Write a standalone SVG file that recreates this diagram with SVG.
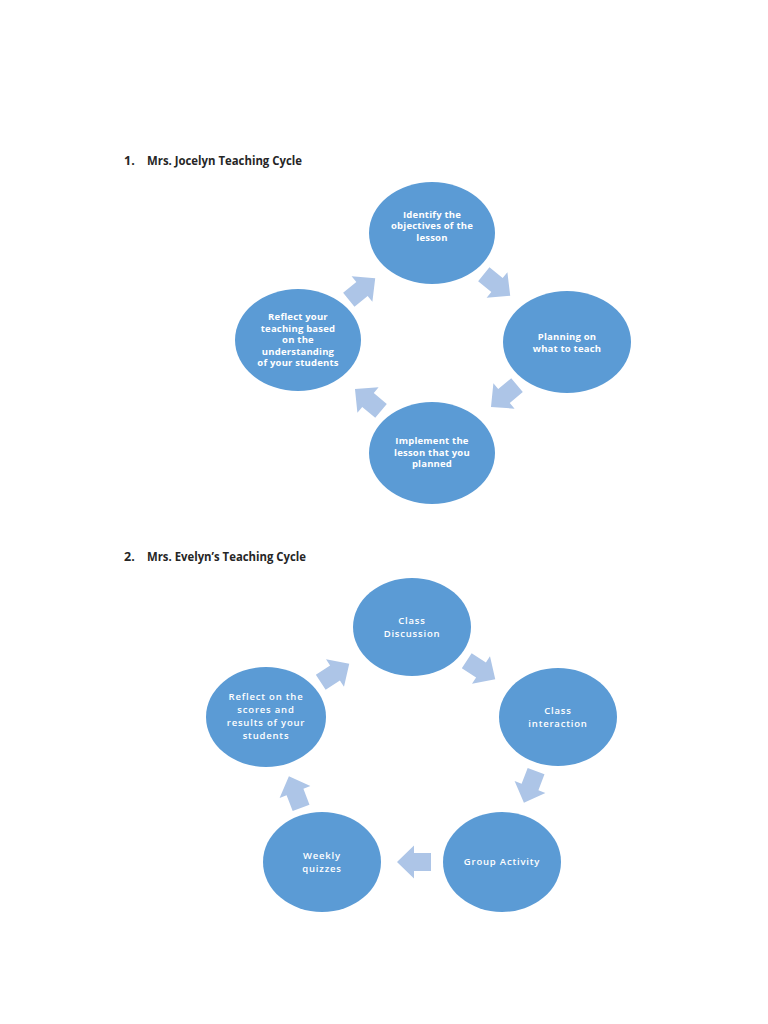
<svg xmlns="http://www.w3.org/2000/svg" width="768" height="1024" viewBox="0 0 768 1024">
<style>
.bg{fill:#ffffff}
.node{fill:#5b9bd5}
.arr{fill:#adc5e7}
.head{font-family:"Open Sans","Liberation Sans",sans-serif;font-weight:700;font-size:12.5px;fill:#262626}
.t1{font-family:"Open Sans","Liberation Sans",sans-serif;font-weight:700;font-size:9.5px;fill:#ffffff;text-anchor:middle;letter-spacing:0.2px}
.t2{font-family:"Open Sans","Liberation Sans",sans-serif;font-weight:600;font-size:9.5px;fill:#ffffff;text-anchor:middle;letter-spacing:0.8px}
</style>
<defs>
<path id="ba" d="M-17,-9 L0,-9 L0,-16.5 L17,0 L0,16.5 L0,9 L-17,9 Z"/>
</defs>
<rect class="bg" x="0" y="0" width="768" height="1024"/>

<text class="head" x="124" y="165">1.</text>
<text class="head" x="147" y="165" textLength="155" lengthAdjust="spacingAndGlyphs">Mrs. Jocelyn Teaching Cycle</text>
<text class="head" x="124" y="561">2.</text>
<text class="head" x="147" y="561" textLength="159" lengthAdjust="spacingAndGlyphs">Mrs. Evelyn’s Teaching Cycle</text>

<g id="connectors">
<use href="#ba" class="arr" transform="translate(497,285) rotate(39)"/>
<use href="#ba" class="arr" transform="translate(504,396) rotate(140)"/>
<use href="#ba" class="arr" transform="translate(368,400) rotate(220)"/>
<use href="#ba" class="arr" transform="translate(362,289) rotate(-39)"/>
<use href="#ba" class="arr" transform="translate(481,670) rotate(33)"/>
<use href="#ba" class="arr" transform="translate(530,787) rotate(111)"/>
<use href="#ba" class="arr" transform="translate(414,862) rotate(180)"/>
<use href="#ba" class="arr" transform="translate(295,792) rotate(249)"/>
<use href="#ba" class="arr" transform="translate(335,673) rotate(-33)"/>
</g>

<g id="n1-identify">
<ellipse class="node" cx="432" cy="233" rx="63" ry="51"/>
<text class="t1" x="432" y="218">Identify the</text>
<text class="t1" x="432" y="229">objectives of the</text>
<text class="t1" x="432" y="241">lesson</text>
</g>
<g id="n1-planning">
<ellipse class="node" cx="567" cy="342" rx="64" ry="51"/>
<text class="t1" x="567" y="340">Planning on</text>
<text class="t1" x="567" y="352">what to teach</text>
</g>
<g id="n1-implement">
<ellipse class="node" cx="432" cy="453" rx="63" ry="51"/>
<text class="t1" x="432" y="444">Implement the</text>
<text class="t1" x="432" y="456">lesson that you</text>
<text class="t1" x="432" y="467">planned</text>
</g>
<g id="n1-reflect">
<ellipse class="node" cx="298" cy="340" rx="63" ry="51"/>
<text class="t1" x="298" y="320">Reflect your</text>
<text class="t1" x="298" y="332">teaching based</text>
<text class="t1" x="298" y="343">on the</text>
<text class="t1" x="298" y="355">understanding</text>
<text class="t1" x="298" y="366">of your students</text>
</g>

<g id="n2-discussion">
<ellipse class="node" cx="412" cy="627" rx="59" ry="49"/>
<text class="t2" x="412" y="624">Class</text>
<text class="t2" x="412" y="637">Discussion</text>
</g>
<g id="n2-interaction">
<ellipse class="node" cx="558" cy="717" rx="59" ry="49"/>
<text class="t2" x="558" y="714">Class</text>
<text class="t2" x="558" y="727">interaction</text>
</g>
<g id="n2-group">
<ellipse class="node" cx="502" cy="862" rx="59" ry="50"/>
<text class="t2" x="502" y="865">Group Activity</text>
</g>
<g id="n2-quizzes">
<ellipse class="node" cx="322" cy="862" rx="59" ry="50"/>
<text class="t2" x="322" y="859">Weekly</text>
<text class="t2" x="322" y="872">quizzes</text>
</g>
<g id="n2-reflect">
<ellipse class="node" cx="266" cy="717" rx="60" ry="50"/>
<text class="t2" x="266" y="700">Reflect on the</text>
<text class="t2" x="266" y="713">scores and</text>
<text class="t2" x="266" y="726">results of your</text>
<text class="t2" x="266" y="739">students</text>
</g>
</svg>
